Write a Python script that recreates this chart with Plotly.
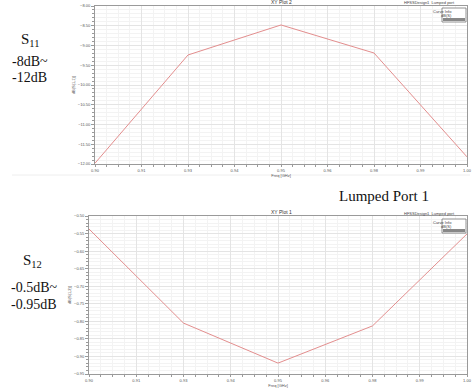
import plotly.graph_objects as go

freq = [0.90, 0.925, 0.95, 0.975, 1.00]
s11_db = [-11.98, -9.24, -8.48, -9.19, -11.82]
s12_db = [-0.537, -0.805, -0.919, -0.813, -0.551]
x_ticks = [0.90, 0.9125, 0.925, 0.9375, 0.95, 0.9625, 0.975, 0.9875, 1.00]
x_tick_text = ["0.90", "0.91", "0.93", "0.94", "0.95", "0.96", "0.98", "0.99", "1.00"]
s11_ticks = [-12.0, -11.5, -11.0, -10.5, -10.0, -9.5, -9.0, -8.5, -8.0]
s12_ticks = [-0.95, -0.90, -0.85, -0.80, -0.75, -0.70, -0.65, -0.60, -0.55, -0.50]

W, H = 474, 388
line_col = "#e38e8e"
grid_col = "#e4e4e4"
minor_col = "#f3f3f3"
axis_col = "#9a9a9a"
tick_font = dict(family="Arial", size=4, color="#555")

fig = go.Figure()
fig.add_trace(go.Scatter(x=freq, y=s11_db, mode="lines", line=dict(color=line_col, width=1),
                         xaxis="x", yaxis="y", showlegend=False, hoverinfo="skip"))
fig.add_trace(go.Scatter(x=freq, y=s12_db, mode="lines", line=dict(color=line_col, width=1),
                         xaxis="x2", yaxis="y2", showlegend=False, hoverinfo="skip"))

def xdict(domain, anchor):
    return dict(domain=domain, anchor=anchor, range=[0.90, 1.00], tickvals=x_ticks, ticktext=x_tick_text,
                showgrid=True, gridcolor=grid_col, gridwidth=1, automargin=False,
                minor=dict(dtick=0.0125 / 4, showgrid=True, gridcolor=minor_col, ticks="outside", ticklen=1.5, tickcolor=axis_col),
                showline=True, linecolor=axis_col, linewidth=1, mirror=True,
                ticks="outside", ticklen=2, tickcolor=axis_col, tickfont=tick_font, zeroline=False,
                title=dict(text="Freq [GHz]", font=dict(family="Arial", size=4, color="#555"), standoff=0))

def ydict(domain, anchor, rng, ticks, fmt, title, minor_dt):
    return dict(domain=domain, anchor=anchor, range=rng, tickvals=ticks, tickformat=fmt,
                showgrid=True, gridcolor=grid_col, gridwidth=1, automargin=False,
                minor=dict(dtick=minor_dt, showgrid=True, gridcolor=minor_col, ticks="outside", ticklen=2, tickcolor=axis_col),
                showline=True, linecolor=axis_col, linewidth=1, mirror=True,
                ticks="outside", ticklen=3, tickcolor=axis_col, tickfont=tick_font, zeroline=False,
                title=dict(text=title, font=dict(family="Arial", size=4, color="#555"), standoff=2))

fig.update_layout(
    width=W, height=H, margin=dict(l=0, r=0, t=0, b=0, autoexpand=False),
    paper_bgcolor="white", plot_bgcolor="white",
    xaxis=xdict([95 / W, 467 / W], "y"),
    yaxis=ydict([1 - 164 / H, 1 - 6 / H], "x", [-12.0, -8.0], s11_ticks, ".2f", "dB(S(1,1))", 0.1),
    xaxis2=xdict([89 / W, 467 / W], "y2"),
    yaxis2=ydict([1 - 374 / H, 1 - 216 / H], "x2", [-0.95, -0.50], s12_ticks, ".2f", "dB(S(1,2))", 0.01),
)

serif = "Liberation Serif, Times New Roman, serif"
ann = [
    dict(x=19, y=40, text="S<sub>11</sub>", size=15),
    dict(x=10, y=61, text="-8dB~", size=14),
    dict(x=10, y=78, text="-12dB", size=14),
    dict(x=337, y=196, text="Lumped Port 1", size=15),
    dict(x=21, y=261, text="S<sub>12</sub>", size=15),
    dict(x=9, y=287, text="-0.5dB~", size=14),
    dict(x=9, y=304, text="-0.95dB", size=14),
]
for a in ann:
    fig.add_annotation(x=a["x"] / W, y=1 - a["y"] / H, xref="paper", yref="paper", text=a["text"],
                       showarrow=False, xanchor="left", yanchor="middle",
                       font=dict(family=serif, size=a["size"], color="#111"))

small = dict(family="Arial", size=4, color="#444")
for title, ty, hx, hy in [("XY Plot 2", 2, 467, 3), ("XY Plot 1", 212, 467, 213)]:
    fig.add_annotation(x=281 / W, y=1 - ty / H, xref="paper", yref="paper", text=title,
                       showarrow=False, yanchor="middle", font=dict(family="Arial", size=5, color="#333"))
    fig.add_annotation(x=(hx - 10) / W, y=1 - hy / H, xref="paper", yref="paper", text="HFSSDesign1  Lumped port",
                       showarrow=False, xanchor="right", yanchor="middle", font=small)

# curve-info boxes
for y0 in (8, 219):
    fig.add_shape(type="rect", xref="paper", yref="paper", x0=442 / W, x1=466 / W,
                  y0=1 - (y0 + 14) / H, y1=1 - y0 / H, line=dict(color="#777", width=0.8),
                  fillcolor="white")
    fig.add_shape(type="rect", xref="paper", yref="paper", x0=443 / W, x1=465 / W,
                  y0=1 - (y0 + 13) / H, y1=1 - (y0 + 10) / H, line=dict(width=0), fillcolor="#888")
    fig.add_annotation(x=454 / W, y=1 - (y0 + 3) / H, xref="paper", yref="paper", text="Curve Info",
                       showarrow=False, yanchor="middle", font=dict(family="Arial", size=4, color="#444"))
    fig.add_annotation(x=454 / W, y=1 - (y0 + 7.5) / H, xref="paper", yref="paper", text="dB(S)",
                       showarrow=False, yanchor="middle", font=dict(family="Arial", size=4, color="#444"))

fig.add_shape(type="line", xref="paper", yref="paper", x0=12 / W, x1=470 / W, y0=1 - 175 / H, y1=1 - 175 / H,
              line=dict(color="#eeeeee", width=1))

fig.write_html("out.html", config={"displayModeBar": False, "staticPlot": True},
               post_script="document.body.style.margin='0';document.body.style.overflow='hidden';")
